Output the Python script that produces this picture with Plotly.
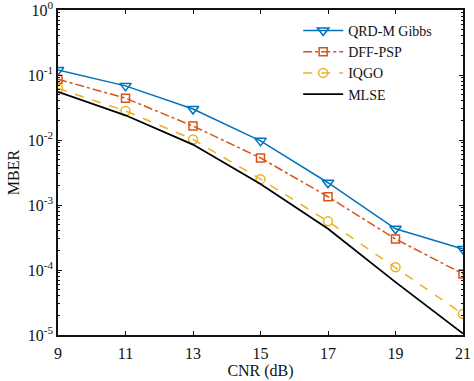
import plotly.graph_objects as go

cnr = [9, 11, 13, 15, 17, 19, 21]
qrdm_gibbs = [0.119, 0.068, 0.030, 0.0097, 0.0022, 4.3e-4, 2.1e-4]
dff_psp = [0.086, 0.044, 0.0164, 0.0053, 0.00134, 3.0e-4, 8.7e-5]
iqgo = [0.062, 0.028, 0.0102, 0.0025, 5.6e-4, 1.1e-4, 2.1e-5]
mlse = [0.055, 0.024, 0.0085, 0.0021, 4.3e-4, 6.5e-5, 1.05e-5]

x_ticks = [9, 11, 13, 15, 17, 19, 21]
y_tickvals = [1, 0.1, 0.01, 1e-3, 1e-4, 1e-5]
y_ticktext = ["10<sup>0</sup>", "10<sup>-1</sup>", "10<sup>-2</sup>",
              "10<sup>-3</sup>", "10<sup>-4</sup>", "10<sup>-5</sup>"]
y_minor = [m * 10.0 ** e for e in range(-5, 0) for m in range(2, 10)]

font = "Liberation Serif, Times New Roman, serif"
ink = "#111"

fig = go.Figure()
fig.add_trace(go.Scatter(x=cnr, y=qrdm_gibbs, name="QRD-M Gibbs", mode="lines+markers",
                         line=dict(color="#0072BD", width=1.5),
                         marker=dict(symbol="triangle-down-open", size=10, color="#0072BD",
                                     line=dict(width=1.5))))
fig.add_trace(go.Scatter(x=cnr, y=dff_psp, name="DFF-PSP", mode="lines+markers",
                         line=dict(color="#D95319", width=1.5, dash="dashdot"),
                         marker=dict(symbol="square-open", size=8, color="#D95319",
                                     line=dict(width=1.5))))
fig.add_trace(go.Scatter(x=cnr, y=iqgo, name="IQGO", mode="lines+markers",
                         line=dict(color="#EDB120", width=1.5, dash="dash"),
                         marker=dict(symbol="circle-open", size=9, color="#EDB120",
                                     line=dict(width=1.5))))
fig.add_trace(go.Scatter(x=cnr, y=mlse, name="MLSE", mode="lines",
                         line=dict(color="black", width=1.8)))

fig.update_layout(
    width=474, height=381,
    margin=dict(l=58, r=11, t=10, b=46),
    paper_bgcolor="white", plot_bgcolor="white",
    font=dict(family=font, size=16, color=ink),
    showlegend=True,
    legend=dict(x=0.593, y=0.985, xanchor="left", yanchor="top",
                bgcolor="rgba(255,255,255,0)", borderwidth=0,
                font=dict(family=font, size=14, color=ink),
                tracegroupgap=0, itemwidth=40),
    xaxis=dict(range=[9, 21], tickvals=x_ticks, ticks="inside", ticklen=4,
               tickcolor=ink, ticklabeloverflow="allow", ticklabelstandoff=3,
               automargin=False,
               showline=True, linecolor=ink, linewidth=1.5, mirror="ticks",
               showgrid=False, zeroline=False,
               title=dict(text="CNR (dB)", standoff=2, font=dict(size=16)),
               tickfont=dict(size=16)),
    yaxis=dict(type="log", range=[-5, 0], tickvals=y_tickvals, ticktext=y_ticktext,
               ticks="inside", ticklen=4, tickcolor=ink, ticklabeloverflow="allow",
               automargin=False,
               minor=dict(tickmode="array", tickvals=y_minor, ticks="inside", ticklen=2,
                          tickcolor=ink, showgrid=False),
               showline=True, linecolor=ink, linewidth=1.5, mirror="ticks",
               showgrid=False, zeroline=False,
               title=dict(text="MBER", standoff=4, font=dict(size=16)),
               tickfont=dict(size=16)),
)

fig.write_html("out.html", config={"displayModeBar": False},
               post_script="document.body.style.margin='0';document.body.style.padding='0';")
